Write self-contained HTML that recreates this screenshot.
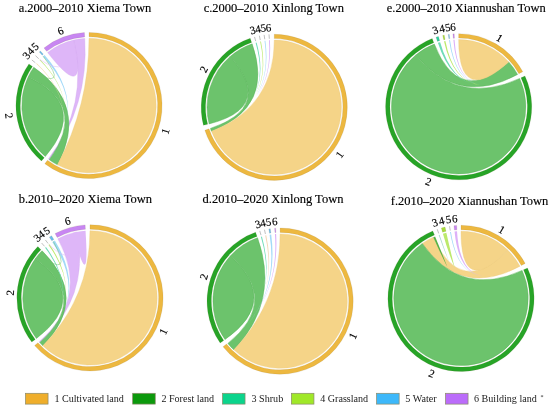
<!DOCTYPE html>
<html><head><meta charset="utf-8"><title>Land use chord diagrams</title>
<style>
html,body{margin:0;padding:0;background:#fff;}
svg{display:block}
text{font-family:"Liberation Serif",serif;fill:#000;stroke:#000;stroke-width:0.15px}
.tt{font-size:12.5px}
.lg{font-size:10.1px;stroke:none;fill:#1a1a1a}
.lb{font-size:11px;text-anchor:middle;dominant-baseline:central}
</style></head><body>
<svg width="550" height="410" viewBox="0 0 550 410">
<rect width="550" height="410" fill="#fff"/>
<path d="M73.65 40.08 A67.2 67.2 0 0 1 84.78 38.43 Q89 105.5 49.31 159.73 A67.2 67.2 0 0 1 48.37 159.03 Q89 105.5 73.65 40.08 Z" fill="#DEB6F8" stroke="#D2A6EE" stroke-width="0.35"/>
<path d="M28.1 77.1 A67.2 67.2 0 0 1 33.75 67.24 Q89 105.5 57.45 164.83 A67.2 67.2 0 0 1 49.31 159.73 Q89 105.5 28.1 77.1 Z" fill="#6CC36C" stroke="#58B358" stroke-width="0.45"/>
<path d="M45.27 156.52 A67.2 67.2 0 0 1 28.1 77.1 Q89 105.5 45.27 156.52 Z" fill="#6CC36C" stroke="#58B358" stroke-width="0.45"/>
<path d="M47.63 52.55 A67.2 67.2 0 0 1 73.65 40.08 Q89 105.5 47.63 52.55 Z" fill="#DEB6F8" stroke="#D2A6EE" stroke-width="0.35"/>
<path d="M89 38.3 A67.2 67.2 0 1 1 57.45 164.83 Q89 105.5 89 38.3 Z" fill="#F5D488" stroke="#EBC878" stroke-width="0.35"/>
<path d="M43 56.51 Q71.52 86.89 67.29 119.22 Q72.11 86.35 44.56 55.09 A67.2 67.2 0 0 0 43 56.51 Z" fill="#A2DAF8" opacity="1"/>
<path d="M39.53 60.01 Q62.6 82.92 65.15 107.82 Q62.83 82.66 40.01 59.5 A67.2 67.2 0 0 0 39.53 60.01 Z" fill="#BCE96C" opacity="1"/>
<path d="M36.26 63.85 Q61.61 87.29 63.41 114.14 Q61.81 87.04 36.7 63.3 A67.2 67.2 0 0 0 36.26 63.85 Z" fill="#F3DDA8" opacity="1"/>
<path d="M43.17 56.35 Q70.59 90.86 30.8 71.9" fill="none" stroke="#6CC36C" stroke-width="0.5" opacity="1"/>
<path d="M39.85 59.67 Q72.31 80.28 66.02 42.35" fill="none" stroke="#DEB6F8" stroke-width="0.5" opacity="1"/>
<path d="M89 32.4 A73.1 73.1 0 1 1 44.8 163.73 L47.46 160.22 A68.7 68.7 0 1 0 89 36.8 Z" fill="#EDB840" stroke="#6b5a30" stroke-opacity="0.35" stroke-width="0.35"/>
<path d="M41.43 161 A73.1 73.1 0 0 1 28.9 63.89 L32.52 66.39 A68.7 68.7 0 0 0 44.29 157.66 Z" fill="#27A427" stroke="#6b5a30" stroke-opacity="0.35" stroke-width="0.35"/>
<path d="M31.83 59.94 L35.27 62.69" stroke="#8c8c8c" stroke-width="0.55" fill="none"/>
<path d="M35.49 55.69 L38.72 58.69" stroke="#8c8c8c" stroke-width="0.55" fill="none"/>
<path d="M39.24 51.95 A73.1 73.1 0 0 1 40.37 50.92 L43.3 54.21 A68.7 68.7 0 0 0 42.23 55.17 Z" fill="#6CBCEB" stroke="#6b5a30" stroke-opacity="0.35" stroke-width="0.35"/>
<path d="M44 47.9 A73.1 73.1 0 0 1 84.41 32.54 L84.69 36.94 A68.7 68.7 0 0 0 46.7 51.36 Z" fill="#C886F2" stroke="#6b5a30" stroke-opacity="0.35" stroke-width="0.35"/>
<text x="165.11" y="131.11" transform="rotate(-71.4 165.11 131.11)" class="lb">1</text>
<text x="9.36" y="115.77" transform="rotate(82.65 9.36 115.77)" class="lb">2</text>
<text x="26.2" y="55.46" transform="rotate(-51.45 26.2 55.46)" class="lb">3</text>
<text x="30.22" y="50.79" transform="rotate(-47.05 30.22 50.79)" class="lb">4</text>
<text x="34.96" y="46.11" transform="rotate(-42.3 34.96 46.11)" class="lb">5</text>
<text x="60.48" y="30.43" transform="rotate(-20.8 60.48 30.43)" class="lb">6</text>
<path d="M57.9 238.79 A67.2 67.2 0 0 1 77.15 231.88 Q89.97 297.85 39.8 342.55 A67.2 67.2 0 0 1 39.1 341.76 Q89.97 297.85 57.9 238.79 Z" fill="#DEB6F8" stroke="#D2A6EE" stroke-width="0.35"/>
<path d="M73.14 232.79 A67.2 67.2 0 0 1 85.52 230.8 Q89.97 297.85 73.14 232.79 Z" fill="#DEB6F8"/>
<path d="M35.26 258.83 A67.2 67.2 0 0 1 42.04 250.75 Q89.97 297.85 42.79 345.7 A67.2 67.2 0 0 1 39.8 342.55 Q89.97 297.85 35.26 258.83 Z" fill="#6CC36C" stroke="#58B358" stroke-width="0.45"/>
<path d="M36.44 338.48 A67.2 67.2 0 0 1 35.26 258.83 Q89.97 297.85 36.44 338.48 Z" fill="#6CC36C" stroke="#58B358" stroke-width="0.45"/>
<path d="M89.97 230.65 A67.2 67.2 0 1 1 42.79 345.7 Q89.97 297.85 89.97 230.65 Z" fill="#F5D488" stroke="#EBC878" stroke-width="0.35"/>
<path d="M52.39 242.14 Q75.69 276.68 65.52 306.97 Q76.63 276.08 54.86 240.55 A67.2 67.2 0 0 0 52.39 242.14 Z" fill="#A2DAF8" opacity="1"/>
<path d="M48.51 244.97 Q67.56 271.26 65.56 295.63 Q68.03 270.9 49.43 244.25 A67.2 67.2 0 0 0 48.51 244.97 Z" fill="#BCE96C" opacity="1"/>
<path d="M45.09 247.83 Q66.08 275.16 62.78 301.34 Q66.48 274.81 45.97 247.06 A67.2 67.2 0 0 0 45.09 247.83 Z" fill="#6FDCB8" opacity="1"/>
<path d="M53.37 241.49 Q74.39 280.23 38.49 254.65" fill="none" stroke="#6CC36C" stroke-width="0.5" opacity="1"/>
<path d="M48.97 244.61 Q76.57 270.74 72.58 232.94" fill="none" stroke="#DEB6F8" stroke-width="0.5" opacity="1"/>
<path d="M89.97 224.75 A73.1 73.1 0 1 1 34.63 345.62 L37.96 342.74 A68.7 68.7 0 1 0 89.97 229.15 Z" fill="#EDB840" stroke="#6b5a30" stroke-opacity="0.35" stroke-width="0.35"/>
<path d="M31.74 342.05 A73.1 73.1 0 0 1 37.83 246.61 L40.97 249.7 A68.7 68.7 0 0 0 35.25 339.39 Z" fill="#27A427" stroke="#6b5a30" stroke-opacity="0.35" stroke-width="0.35"/>
<path d="M41.63 243.02 L44.54 246.32" stroke="#8c8c8c" stroke-width="0.55" fill="none"/>
<path d="M45.37 239.93 L48.05 243.42" stroke="#8c8c8c" stroke-width="0.55" fill="none"/>
<path d="M49.3 237.11 A73.1 73.1 0 0 1 51.56 235.66 L53.87 239.4 A68.7 68.7 0 0 0 51.75 240.76 Z" fill="#6CBCEB" stroke="#6b5a30" stroke-opacity="0.35" stroke-width="0.35"/>
<path d="M55.09 233.61 A73.1 73.1 0 0 1 85.13 224.91 L85.42 229.3 A68.7 68.7 0 0 0 57.19 237.48 Z" fill="#C886F2" stroke="#6b5a30" stroke-opacity="0.35" stroke-width="0.35"/>
<text x="162.98" y="331.28" transform="rotate(-65.4 162.98 331.28)" class="lb">1</text>
<text x="9.83" y="292.74" transform="rotate(-86.35 9.83 292.74)" class="lb">2</text>
<text x="36.87" y="237.62" transform="rotate(-41.4 36.87 237.62)" class="lb">3</text>
<text x="40.98" y="234.23" transform="rotate(-37.6 40.98 234.23)" class="lb">4</text>
<text x="46.53" y="230.31" transform="rotate(-32.75 46.53 230.31)" class="lb">5</text>
<text x="67.63" y="220.72" transform="rotate(-16.15 67.63 220.72)" class="lb">6</text>
<path d="M230.16 56.58 A67.2 67.2 0 0 1 252.15 43.84 Q274.25 107.3 211.43 131.16 A67.2 67.2 0 0 1 210.45 128.4 Q274.25 107.3 230.16 56.58 Z" fill="#6CC36C" stroke="#58B358" stroke-width="0.45"/>
<path d="M209.13 123.9 A67.2 67.2 0 0 1 230.16 56.58 Q274.25 107.3 209.13 123.9 Z" fill="#6CC36C" stroke="#58B358" stroke-width="0.45"/>
<path d="M274.25 40.1 A67.2 67.2 0 1 1 211.43 131.16 Q274.25 107.3 274.25 40.1 Z" fill="#F5D488" stroke="#EBC878" stroke-width="0.35"/>
<path d="M255.61 42.74 Q264.93 75.02 253.88 96.73 Q265.44 74.88 256.63 42.45 A67.2 67.2 0 0 0 255.61 42.74 Z" fill="#6FDCB8" opacity="1"/>
<path d="M260.16 41.59 Q267.21 74.45 254.99 96.46 Q267.61 74.36 260.97 41.43 A67.2 67.2 0 0 0 260.16 41.59 Z" fill="#BCE96C" opacity="1"/>
<path d="M264.55 40.8 Q269.4 74.05 256.09 96.27 Q269.81 74 265.36 40.69 A67.2 67.2 0 0 0 264.55 40.8 Z" fill="#A2DAF8" opacity="1"/>
<path d="M268.98 40.31 Q271.61 73.8 257.21 96.15 Q272.08 73.77 269.91 40.24 A67.2 67.2 0 0 0 268.98 40.31 Z" fill="#DCB0F8" opacity="1"/>
<path d="M274.25 34.2 A73.1 73.1 0 1 1 204.85 130.25 L209.02 128.87 A68.7 68.7 0 1 0 274.25 38.6 Z" fill="#EDB840" stroke="#6b5a30" stroke-opacity="0.35" stroke-width="0.35"/>
<path d="M203.41 125.36 A73.1 73.1 0 0 1 250.21 38.27 L251.66 42.42 A68.7 68.7 0 0 0 207.68 124.27 Z" fill="#27A427" stroke="#6b5a30" stroke-opacity="0.35" stroke-width="0.35"/>
<path d="M254.53 36.91 L255.72 41.15" stroke="#8c8c8c" stroke-width="0.55" fill="none"/>
<path d="M259.36 35.73 L260.26 40.04" stroke="#8c8c8c" stroke-width="0.55" fill="none"/>
<path d="M264.14 34.9 L264.75 39.26" stroke="#8c8c8c" stroke-width="0.55" fill="none"/>
<path d="M269.02 34.39 L269.34 38.78" stroke="#8c8c8c" stroke-width="0.55" fill="none"/>
<text x="339.34" y="154.33" transform="rotate(-54.15 339.34 154.33)" class="lb">1</text>
<text x="203.51" y="69.29" transform="rotate(-61.75 203.51 69.29)" class="lb">2</text>
<text x="252.59" y="29.98" transform="rotate(-15.65 252.59 29.98)" class="lb">3</text>
<text x="257.9" y="28.68" transform="rotate(-11.75 257.9 28.68)" class="lb">4</text>
<text x="263.14" y="27.77" transform="rotate(-7.95 263.14 27.77)" class="lb">5</text>
<text x="268.51" y="27.21" transform="rotate(-4.1 268.51 27.21)" class="lb">6</text>
<path d="M230.48 255.79 A67.2 67.2 0 0 1 257.56 237.79 Q280.1 301.1 233.84 349.85 A67.2 67.2 0 0 1 227.88 343.39 Q280.1 301.1 230.48 255.79 Z" fill="#6CC36C" stroke="#58B358" stroke-width="0.45"/>
<path d="M224.99 339.55 A67.2 67.2 0 0 1 230.48 255.79 Q280.1 301.1 224.99 339.55 Z" fill="#6CC36C" stroke="#58B358" stroke-width="0.45"/>
<path d="M280.1 233.9 A67.2 67.2 0 1 1 233.84 349.85 Q280.1 301.1 280.1 233.9 Z" fill="#F5D488" stroke="#EBC878" stroke-width="0.35"/>
<path d="M260.9 236.7 Q269.54 265.68 263.95 290.23 Q270.1 265.52 261.92 236.41 A67.2 67.2 0 0 0 260.9 236.7 Z" fill="#6FDCB8" opacity="1"/>
<path d="M265.21 235.57 Q271.91 265.06 265.25 289.9 Q272.48 264.93 266.24 235.34 A67.2 67.2 0 0 0 265.21 235.57 Z" fill="#F3D6B4" opacity="1"/>
<path d="M269.59 234.73 Q278 287.83 246.53 325.8 Q278.32 287.78 271.21 234.49 A67.2 67.2 0 0 0 269.59 234.73 Z" fill="#A2DAF8" opacity="1"/>
<path d="M274.94 234.1 Q278.3 277.65 257.63 310.95 Q278.71 277.62 276.11 234.02 A67.2 67.2 0 0 0 274.94 234.1 Z" fill="#DCB0F8" opacity="1"/>
<path d="M280.1 228 A73.1 73.1 0 1 1 223.05 346.81 L226.48 344.05 A68.7 68.7 0 1 0 280.1 232.4 Z" fill="#EDB840" stroke="#6b5a30" stroke-opacity="0.35" stroke-width="0.35"/>
<path d="M220.15 342.92 A73.1 73.1 0 0 1 255.58 232.24 L257.05 236.38 A68.7 68.7 0 0 0 223.76 340.41 Z" fill="#27A427" stroke="#6b5a30" stroke-opacity="0.35" stroke-width="0.35"/>
<path d="M259.77 230.88 L260.99 235.11" stroke="#8c8c8c" stroke-width="0.55" fill="none"/>
<path d="M264.47 229.69 L265.41 233.99" stroke="#8c8c8c" stroke-width="0.55" fill="none"/>
<path d="M268.79 228.88 A73.1 73.1 0 0 1 270.31 228.66 L270.9 233.02 A68.7 68.7 0 0 0 269.47 233.23 Z" fill="#6CBCEB" stroke="#6b5a30" stroke-opacity="0.35" stroke-width="0.35"/>
<path d="M274.62 228.21 A73.1 73.1 0 0 1 275.64 228.14 L275.91 232.53 A68.7 68.7 0 0 0 274.95 232.59 Z" fill="#C886F2" stroke="#6b5a30" stroke-opacity="0.35" stroke-width="0.35"/>
<text x="352.49" y="335.86" transform="rotate(-64.35 352.49 335.86)" class="lb">1</text>
<text x="203.62" y="276.62" transform="rotate(-72.25 203.62 276.62)" class="lb">2</text>
<text x="257.76" y="223.97" transform="rotate(-16.15 257.76 223.97)" class="lb">3</text>
<text x="262.93" y="222.66" transform="rotate(-12.35 262.93 222.66)" class="lb">4</text>
<text x="268.51" y="221.64" transform="rotate(-8.3 268.51 221.64)" class="lb">5</text>
<text x="274.64" y="220.99" transform="rotate(-3.9 274.64 220.99)" class="lb">6</text>
<path d="M519.6 78.46 A67.2 67.2 0 1 1 415.82 54.97 Q458.65 106.75 519.6 78.46 Z" fill="#6CC36C" stroke="#58B358" stroke-width="0.45"/>
<path d="M415.82 54.97 A67.2 67.2 0 0 1 434.35 44.1 Q458.65 106.75 508.75 61.96 A67.2 67.2 0 0 1 517.59 74.48 Q458.65 106.75 415.82 54.97 Z" fill="#6CC36C" stroke="#58B358" stroke-width="0.45"/>
<path d="M458.65 39.55 A67.2 67.2 0 0 1 508.75 61.96 Q458.65 106.75 458.65 39.55 Z" fill="#F5D488" stroke="#EBC878" stroke-width="0.35"/>
<path d="M437.88 42.84 Q450.76 82.46 478.41 84.95 Q451.61 82.2 440.13 42.15 A67.2 67.2 0 0 0 437.88 42.84 Z" fill="#6FDCB8" opacity="1"/>
<path d="M443.99 41.17 Q453.08 81.83 479.23 84.73 Q453.6 81.72 445.37 40.88 A67.2 67.2 0 0 0 443.99 41.17 Z" fill="#BCE96C" opacity="1"/>
<path d="M449.07 40.24 Q455.01 81.48 479.93 84.61 Q455.36 81.43 449.99 40.11 A67.2 67.2 0 0 0 449.07 40.24 Z" fill="#A2DAF8" opacity="1"/>
<path d="M453.38 39.76 Q456.65 81.29 480.57 84.55 Q457.09 81.26 454.55 39.68 A67.2 67.2 0 0 0 453.38 39.76 Z" fill="#DCB0F8" opacity="1"/>
<path d="M458.65 33.65 A73.1 73.1 0 0 1 522.77 71.65 L518.91 73.76 A68.7 68.7 0 0 0 458.65 38.05 Z" fill="#EDB840" stroke="#6b5a30" stroke-opacity="0.35" stroke-width="0.35"/>
<path d="M524.95 75.97 A73.1 73.1 0 1 1 432.22 38.6 L433.81 42.7 A68.7 68.7 0 1 0 520.96 77.82 Z" fill="#27A427" stroke="#6b5a30" stroke-opacity="0.35" stroke-width="0.35"/>
<path d="M436.06 37.23 A73.1 73.1 0 0 1 438.5 36.48 L439.71 40.71 A68.7 68.7 0 0 0 437.42 41.41 Z" fill="#2FCFA0" stroke="#6b5a30" stroke-opacity="0.35" stroke-width="0.35"/>
<path d="M442.7 35.41 A73.1 73.1 0 0 1 444.2 35.09 L445.07 39.41 A68.7 68.7 0 0 0 443.66 39.7 Z" fill="#A6DC3C" stroke="#6b5a30" stroke-opacity="0.35" stroke-width="0.35"/>
<path d="M448.22 34.4 A73.1 73.1 0 0 1 449.24 34.26 L449.8 38.62 A68.7 68.7 0 0 0 448.85 38.75 Z" fill="#6CBCEB" stroke="#6b5a30" stroke-opacity="0.35" stroke-width="0.35"/>
<path d="M452.91 33.88 A73.1 73.1 0 0 1 454.19 33.79 L454.46 38.18 A68.7 68.7 0 0 0 453.26 38.26 Z" fill="#C886F2" stroke="#6b5a30" stroke-opacity="0.35" stroke-width="0.35"/>
<text x="499.59" y="37.67" transform="rotate(30.65 499.59 37.67)" class="lb">1</text>
<text x="428.63" y="181.23" transform="rotate(21.95 428.63 181.23)" class="lb">2</text>
<text x="435.17" y="29.96" transform="rotate(-17 435.17 29.96)" class="lb">3</text>
<text x="441.95" y="28.2" transform="rotate(-12 441.95 28.2)" class="lb">4</text>
<text x="447.75" y="27.19" transform="rotate(-7.8 447.75 27.19)" class="lb">5</text>
<text x="453.05" y="26.65" transform="rotate(-4 453.05 26.65)" class="lb">6</text>
<path d="M422.26 243.49 A67.2 67.2 0 0 1 433.24 237.2 Q461 298.4 507.68 250.06 A67.2 67.2 0 0 1 520 266.23 Q461 298.4 422.26 243.49 Z" fill="#F5D488" stroke="#EBC878" stroke-width="0.35"/>
<path d="M461 231.2 A67.2 67.2 0 0 1 507.68 250.06 Q461 298.4 461 231.2 Z" fill="#F5D488" stroke="#EBC878" stroke-width="0.35"/>
<path d="M433.24 237.2 Q440.18 252.5 447.54 267.61 Q441.55 251.9 435.07 236.41 A67.2 67.2 0 0 0 433.24 237.2 Z" fill="#58B248" opacity="1"/>
<path d="M438.68 235.02 Q443.59 248.96 449.32 262.56 Q444.28 248.72 439.57 234.71 A67.2 67.2 0 0 0 438.68 235.02 Z" fill="#A8DCCB" opacity="1"/>
<path d="M442.93 233.68 Q447.81 251.15 454.73 267.91 Q450.3 250.53 446.34 232.82 A67.2 67.2 0 0 0 442.93 233.68 Z" fill="#BCE96C" opacity="1"/>
<path d="M450.02 232.1 Q456.61 271.88 480.48 276.05 Q456.98 271.82 450.95 231.96 A67.2 67.2 0 0 0 450.02 232.1 Z" fill="#A2DAF8" opacity="1"/>
<path d="M454.56 231.51 Q459.07 278.33 489.33 276.41 Q459.8 278.28 457.01 231.32 A67.2 67.2 0 0 0 454.56 231.51 Z" fill="#DCB0F8" opacity="1"/>
<path d="M522.1 270.43 A67.2 67.2 0 1 1 422.26 243.49 Q461 298.4 522.1 270.43 Z" fill="#6CC36C" stroke="#58B358" stroke-width="0.45"/>
<path d="M461 225.3 A73.1 73.1 0 0 1 525.18 263.41 L521.32 265.51 A68.7 68.7 0 0 0 461 229.7 Z" fill="#EDB840" stroke="#6b5a30" stroke-opacity="0.35" stroke-width="0.35"/>
<path d="M527.47 267.97 A73.1 73.1 0 1 1 432.79 230.96 L434.49 235.02 A68.7 68.7 0 1 0 523.46 269.8 Z" fill="#27A427" stroke="#6b5a30" stroke-opacity="0.35" stroke-width="0.35"/>
<path d="M437.26 229.26 L438.69 233.42" stroke="#8c8c8c" stroke-width="0.55" fill="none"/>
<path d="M441.34 227.99 A73.1 73.1 0 0 1 445.05 227.06 L446.01 231.35 A68.7 68.7 0 0 0 442.53 232.23 Z" fill="#A6DC3C" stroke="#6b5a30" stroke-opacity="0.35" stroke-width="0.35"/>
<path d="M449.56 226.2 L450.25 230.55" stroke="#8c8c8c" stroke-width="0.55" fill="none"/>
<path d="M453.99 225.64 A73.1 73.1 0 0 1 456.66 225.43 L456.93 229.82 A68.7 68.7 0 0 0 454.42 230.02 Z" fill="#C886F2" stroke="#6b5a30" stroke-opacity="0.35" stroke-width="0.35"/>
<text x="502" y="229.35" transform="rotate(30.7 502 229.35)" class="lb">1</text>
<text x="431.77" y="373.19" transform="rotate(21.35 431.77 373.19)" class="lb">2</text>
<text x="434.92" y="222.45" transform="rotate(-18.95 434.92 222.45)" class="lb">3</text>
<text x="441.44" y="220.52" transform="rotate(-14.1 441.44 220.52)" class="lb">4</text>
<text x="448.44" y="219.09" transform="rotate(-9 448.44 219.09)" class="lb">5</text>
<text x="454.77" y="218.34" transform="rotate(-4.45 454.77 218.34)" class="lb">6</text>
<text x="18.7" y="12.2" class="tt">a.2000–2010 Xiema Town</text><text x="203.7" y="12.2" class="tt">c.2000–2010 Xinlong Town</text><text x="386.8" y="12.4" class="tt">e.2000–2010 Xiannushan Town</text><text x="18.7" y="203.1" class="tt">b.2010–2020 Xiema Town</text><text x="202.5" y="203.1" class="tt">d.2010–2020 Xinlong Town</text><text x="390.8" y="205" class="tt">f.2010–2020 Xiannushan Town</text>
<rect x="25.45" y="393.3" width="22.6" height="10.8" fill="#EFAE2B" stroke="#8a8a6a" stroke-width="0.7"/><text x="54.4" y="402" class="lg">1 Cultivated land</text><rect x="132.65" y="393.3" width="22.6" height="10.8" fill="#0C990C" stroke="#8a8a6a" stroke-width="0.7"/><text x="161.4" y="402" class="lg">2 Forest land</text><rect x="222.45" y="393.3" width="22.6" height="10.8" fill="#0BD48C" stroke="#8a8a6a" stroke-width="0.7"/><text x="251.5" y="402" class="lg">3 Shrub</text><rect x="291.35" y="393.3" width="22.6" height="10.8" fill="#A0E828" stroke="#8a8a6a" stroke-width="0.7"/><text x="320.2" y="402" class="lg">4 Grassland</text><rect x="376.55" y="393.3" width="22.6" height="10.8" fill="#3DB8FA" stroke="#8a8a6a" stroke-width="0.7"/><text x="405.3" y="402" class="lg">5 Water</text><rect x="445.45" y="393.3" width="22.6" height="10.8" fill="#BB6CFA" stroke="#8a8a6a" stroke-width="0.7"/><text x="474" y="402" class="lg">6 Building land</text><text x="540.5" y="398.5" style="font-size:6px" class="lg">*</text>
</svg>
</body></html>
